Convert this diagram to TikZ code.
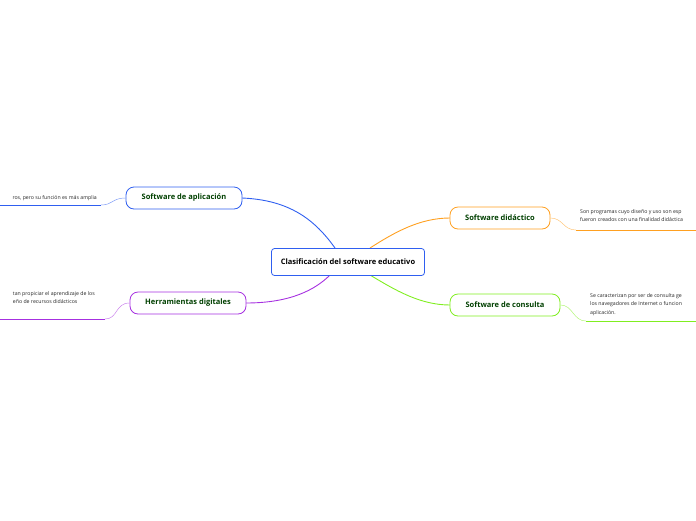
\documentclass[tikz,border=0pt]{standalone}
\usepackage{fontspec}
\setmainfont{Open Sans}
\begin{document}
\begin{tikzpicture}[x=1pt,y=-1pt,
  main/.style={draw=cb,line width=0.8pt,fill=white,minimum width=153pt,minimum height=27pt,font=\fontsize{7.5}{9}\selectfont\bfseries,rounded corners=3pt},
  sub/.style={draw=#1,line width=0.8pt,fill=white,rounded corners=8pt,minimum height=22pt,font=\fontsize{7.5}{9}\selectfont\bfseries,text=green!25!black,inner xsep=10pt},
  note/.style={font=\fontsize{5.2}{8.5}\selectfont,text=black!85,align=left,inner sep=0pt},
  link/.style={draw=#1,line width=0.9pt},
  thin/.style={draw=#1,line width=0.5pt}]
\definecolor{cb}{HTML}{2F5FF0}
\definecolor{cp}{HTML}{A630E0}
\definecolor{co}{HTML}{FFA020}
\definecolor{cg}{HTML}{80EE20}
\useasboundingbox (0,0) rectangle (696,520);
\clip (0,0) rectangle (696,520);
\coordinate (mt) at (335,248);
\coordinate (mb) at (330,275);
\coordinate (mr1) at (370,248);
\coordinate (mr2) at (370,275);
\draw[link=cb] (242,198) .. controls (290,200) and (315,220) .. (mt);
\draw[link=cp] (246,303) .. controls (290,303) and (315,290) .. (mb);
\draw[link=co] (mr1) .. controls (395,232) and (420,218) .. (450,218);
\draw[link=cg] (mr2) .. controls (395,290) and (420,305) .. (450,305);
\node[main] (m) at (348,262) {Clasificación del software educativo};
\node[sub=cb,minimum width=116pt] (a) at (184,198) {Software de aplicación};
\node[sub=cp,minimum width=116pt] (h) at (188,303) {Herramientas digitales};
\node[sub=co,minimum width=100pt] (d) at (500,218) {Software didáctico};
\node[sub=cg,minimum width=110pt] (c) at (505,305) {Software de consulta};
\node[note,anchor=east] (na) at (97,198) {ros, pero su función es más amplia};
\coordinate (ua) at (101,205);
\draw[link=cb] (0,205) -- (ua);
\draw[thin=cb!60] (ua) .. controls (113,205) and (112,198) .. (a.west);
\node[note,anchor=north east] (nh) at (95,291) {tan propiciar el aprendizaje de los\\ eño de recursos didácticos};
\coordinate (uh) at (105,319);
\draw[link=cp] (0,319) -- (uh);
\draw[thin=cp!60] (uh) .. controls (118,319) and (115,303) .. (h.west);
\node[note,anchor=north west] (nd) at (580,209) {Son programas cuyo diseño y uso son esp\\fueron creados con una finalidad didáctica};
\coordinate (ud) at (576,230);
\draw[link=co] (ud) -- (696,230);
\draw[thin=co!60] (d.east) .. controls (563,218) and (563,230) .. (ud);
\node[note,anchor=north west] (nc) at (590,293) {Se caracterizan por ser de consulta ge\\los navegadores de Internet o funcion\\aplicación.};
\coordinate (uc) at (586,321);
\draw[link=cg] (uc) -- (696,321);
\draw[thin=cg!60] (c.east) .. controls (573,305) and (573,321) .. (uc);
\end{tikzpicture}
\end{document}
